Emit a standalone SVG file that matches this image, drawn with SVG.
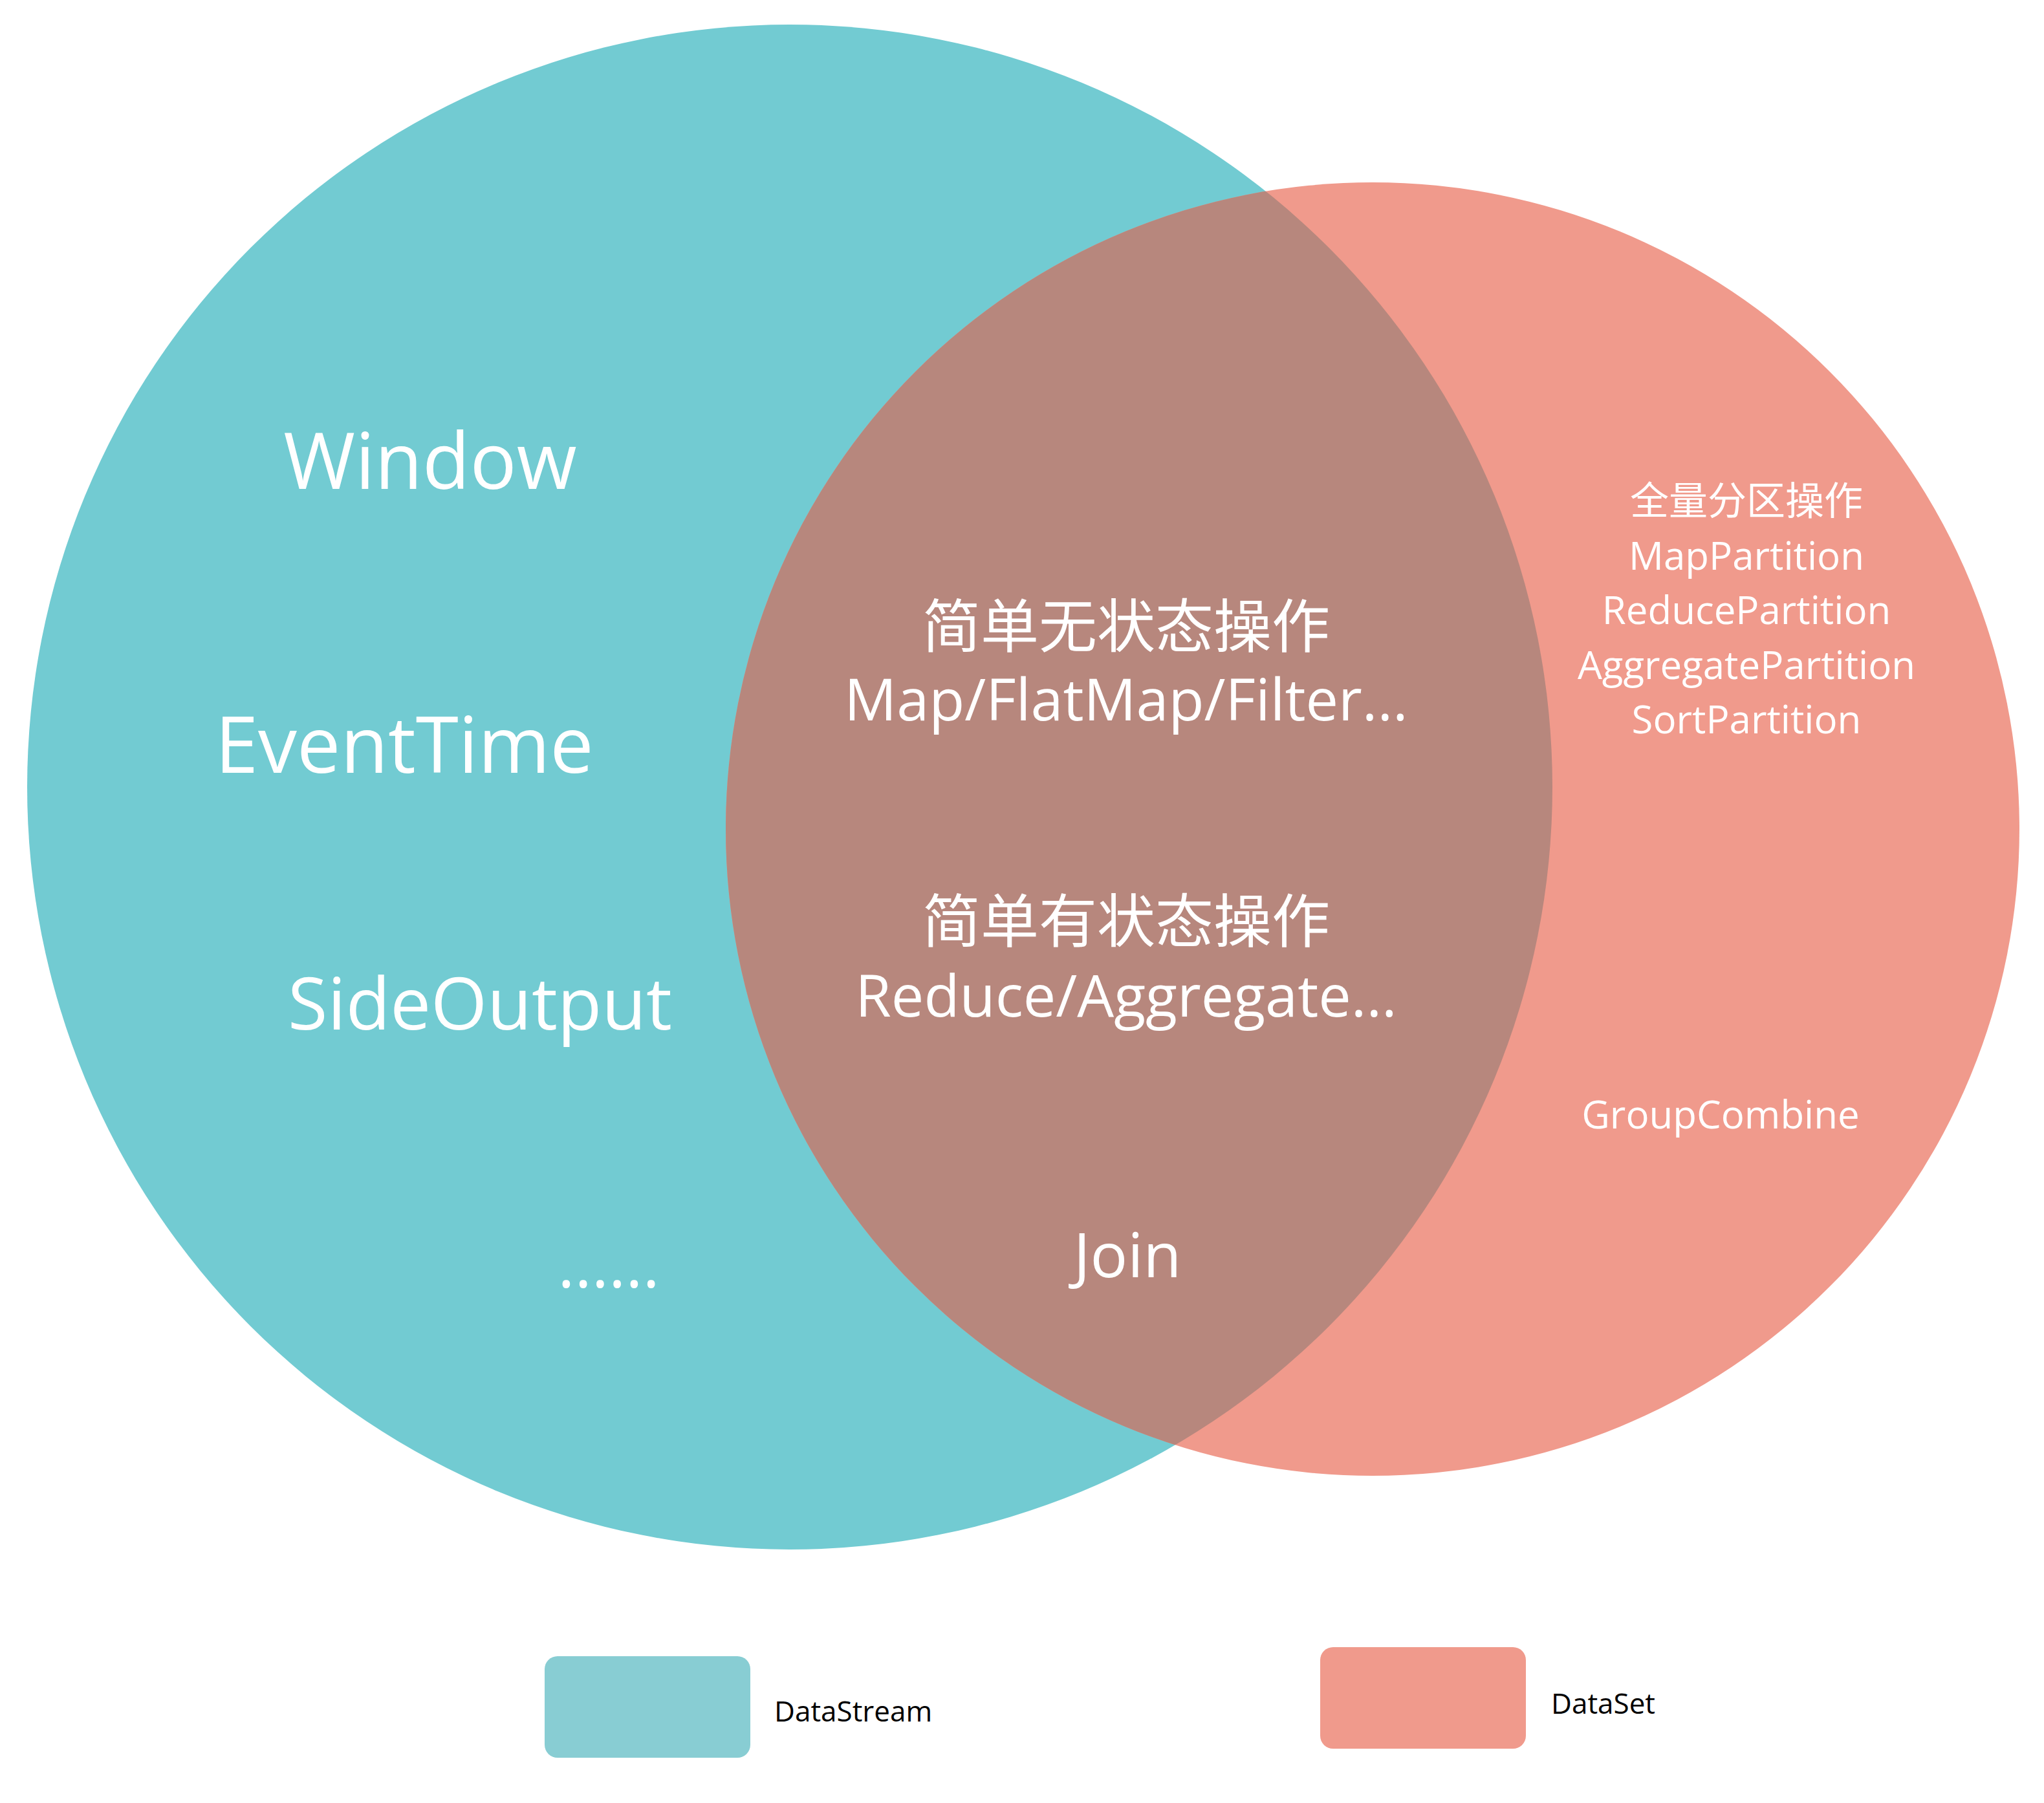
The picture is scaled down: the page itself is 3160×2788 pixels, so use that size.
<svg xmlns="http://www.w3.org/2000/svg" width="3160" height="2788" viewBox="0 0 3160 2788">
<style>
.w{fill:#fff;font-family:"Open Sans","Noto Sans CJK SC",sans-serif;text-anchor:middle}
.b{fill:#000;font-family:"Open Sans",sans-serif;font-size:44px}
</style>
<defs><clipPath id="cr"><circle cx="2122" cy="1282" r="1000"/></clipPath></defs>
<rect width="3160" height="2788" fill="#fff"/>
<g id="datastream"><circle cx="1221" cy="1217" r="1179" fill="#72cbd2"/></g>
<g id="dataset"><circle cx="2122" cy="1282" r="1000" fill="#f09a8c"/></g>
<g id="overlap"><circle cx="1221" cy="1217" r="1179" fill="#b7877d" clip-path="url(#cr)"/></g>
<g id="labels">
<text class="w" x="665" y="756" font-size="120">Window</text>
<text class="w" x="625" y="1195" font-size="120">EventTime</text>
<text class="w" x="742" y="1592" font-size="112">SideOutput</text>
<text class="w" x="941" y="1991" font-size="100">......</text>
<text class="w" x="1741" y="1001" font-size="90">简单无状态操作</text>
<text class="w" x="1741" y="1114" font-size="90">Map/FlatMap/Filter...</text>
<text class="w" x="1741" y="1457" font-size="90">简单有状态操作</text>
<text class="w" x="1741" y="1572" font-size="90">Reduce/Aggregate...</text>
<text class="w" x="1743" y="1975" font-size="96">Join</text>
<text class="w" x="2700" y="796" font-size="60">全量分区操作</text>
<text class="w" x="2700" y="881" font-size="60">MapPartition</text>
<text class="w" x="2700" y="965" font-size="60">ReducePartition</text>
<text class="w" x="2700" y="1050" font-size="60">AggregatePartition</text>
<text class="w" x="2700" y="1134" font-size="60">SortPartition</text>
<text class="w" x="2660" y="1745" font-size="60">GroupCombine</text>
</g>
<g id="legend">
<rect x="842" y="2561" width="318" height="157" rx="20" fill="#88cdd3"/>
<text class="b" x="1197" y="2662">DataStream</text>
<rect x="2041" y="2547" width="318" height="157" rx="20" fill="#f09a8c"/>
<text class="b" x="2398" y="2650">DataSet</text>
</g>
</svg>
